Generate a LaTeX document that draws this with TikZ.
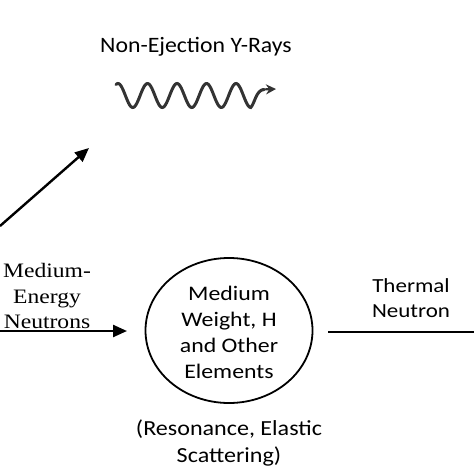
\documentclass[tikz,border=0pt]{standalone}
\usepackage{fontspec}
\setmainfont{Liberation Serif}
\newfontfamily\calib{Carlito}
\usetikzlibrary{shapes.geometric,arrows.meta}
\begin{document}
\begin{tikzpicture}[x=1pt,y=1pt,
  sanslabel/.style={font=\calib\fontsize{20.7}{26}\selectfont, align=center, inner sep=0pt, xscale=1.15, transform shape},
  seriflabel/.style={font=\fontsize{20.5}{25.5}\selectfont, align=center, inner sep=0pt, xscale=1.15, transform shape},
  arr/.style={line width=2.4pt, -{Triangle[length=14pt,width=12pt]}},
  plain/.style={line width=2.4pt}]
\useasboundingbox (0,0) rectangle (474,-474);
% title
\node[sanslabel, font=\calib\fontsize{22}{26}\selectfont, xscale=1.08/1.15] (title) at (196,-47) {Non-Ejection Y-Rays};
% wave
\coordinate (wtip) at (276,-89);
\draw[line width=3pt, black!80, line cap=round] plot[domain=116:250.75, samples=140, smooth] (\x, {-95.5+12*cos(12.2*(\x-118))})
  .. controls (255,-103) and (256,-90) .. (264,-89.5);
\draw[line width=2.2pt, black!80, -{Stealth[length=10pt,width=10pt]}] (262,-89.5) -- (wtip);
% diagonal arrow
\coordinate (dstart) at (0,-226);
\coordinate (dend) at (89,-148);
\draw[arr] (dstart) -- (dend);
% left label
\node[seriflabel] (left) at (47,-296) {Medium-\\Energy\\Neutrons};
\coordinate (hstart) at (0,-331);
\coordinate (hend) at (127,-331);
\draw[arr] (hstart) -- (hend);
% ellipse
\node[ellipse, draw, line width=1.8pt, minimum width=167pt, minimum height=145pt, inner sep=0pt] (elem) at (229,-330.5) {};
\node[sanslabel] (elemtext) at (229,-332.5) {Medium\\Weight, H\\and Other\\Elements};
% right line
\coordinate (rstart) at (328,-332);
\coordinate (rend) at (474,-332);
\draw[plain] (rstart) -- (rend);
\node[sanslabel, font=\calib\fontsize{20}{25}\selectfont] (thermal) at (411,-298) {Thermal\\Neutron};
% bottom label
\node[sanslabel, font=\calib\fontsize{21.5}{27.5}\selectfont, xscale=1.12/1.15] (bottom) at (229,-443) {(Resonance, Elastic\\Scattering)};
\end{tikzpicture}
\end{document}
